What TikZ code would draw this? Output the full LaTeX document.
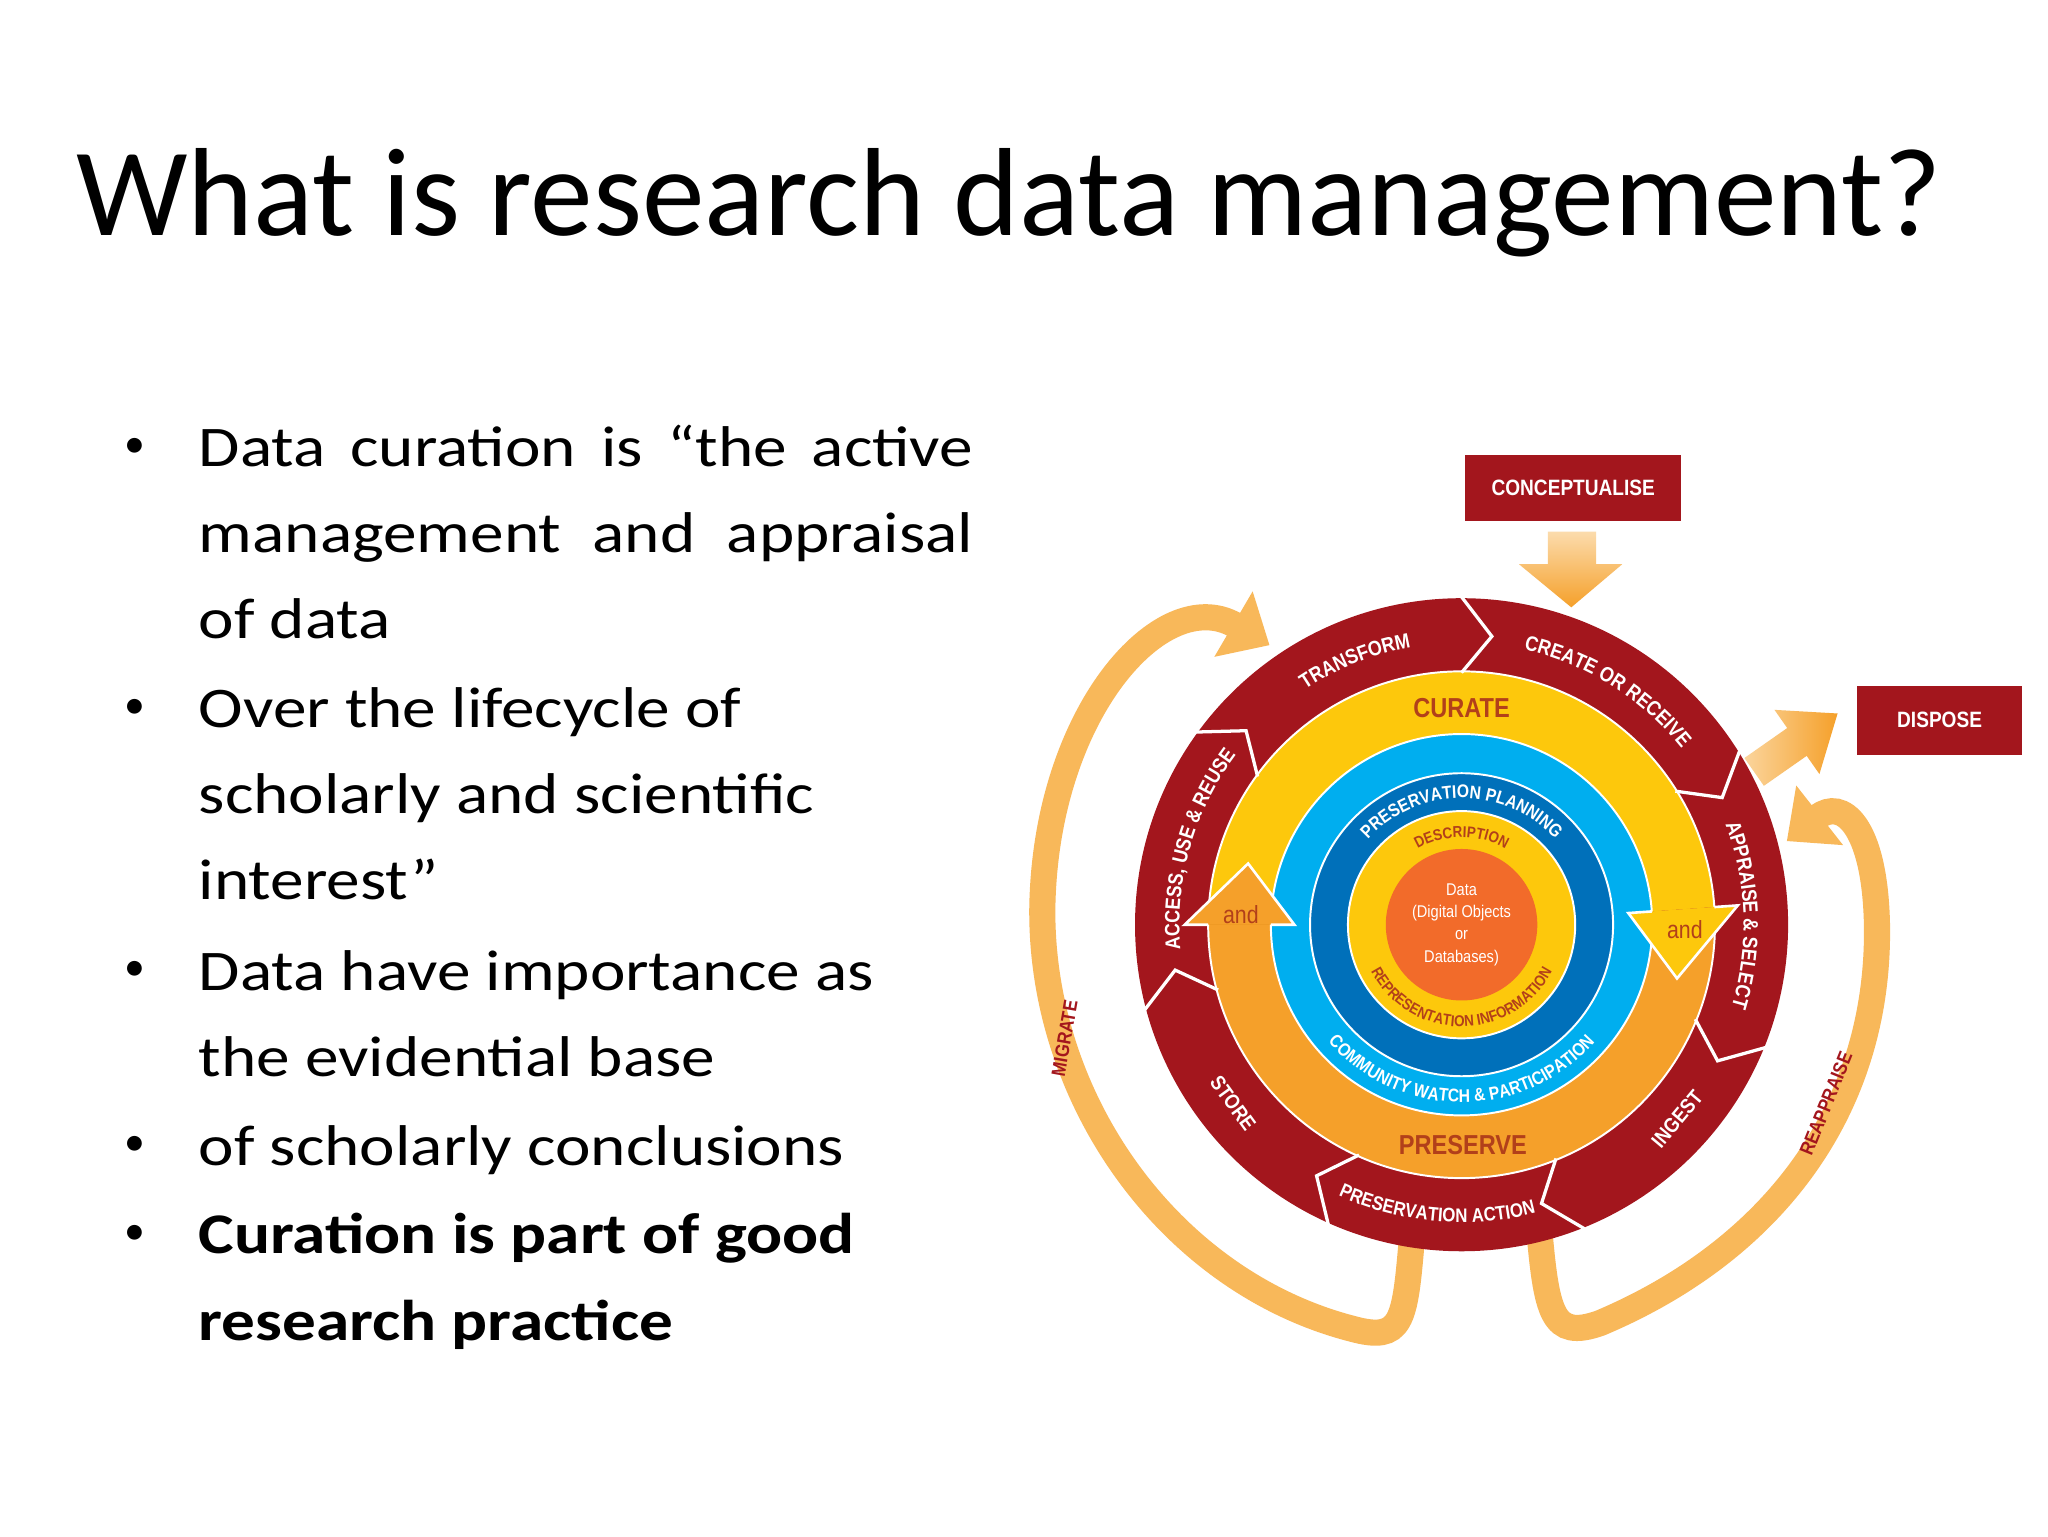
\documentclass[tikz,border=0pt]{standalone}
\usepackage{fontspec}
\setmainfont{Carlito}
\newfontfamily\bul[FakeStretch=1.17]{Carlito}
\newfontfamily\dg[FakeStretch=0.86]{Liberation Sans}
\usetikzlibrary{calc,decorations.text,arrows.meta}
\definecolor{rred}{HTML}{A3161D}
\definecolor{cyel}{HTML}{FDC80C}
\definecolor{pora}{HTML}{F5A02A}
\definecolor{lblue}{HTML}{00AEEF}
\definecolor{dblue}{HTML}{0070BA}
\definecolor{core}{HTML}{F26B2A}
\definecolor{txtor}{HTML}{B2401A}
\definecolor{arr}{HTML}{F8B85A}
\begin{document}
\begin{tikzpicture}[x=1pt,y=1pt,
  ringtxt/.style args={#1/#2}{decorate,decoration={text along path,text align=center,text color=#1,text={#2}}},
  bigarrow/.style={draw=arr,line width=20pt,-{Triangle[width=56pt,length=32pt]}},
  chev/.style={draw=white,line width=2.5pt,line join=miter},
  box/.style={fill=rred,text=white,font=\dg\bfseries\fontsize{17}{17}\selectfont,inner sep=0pt,anchor=center}]
\useasboundingbox (0,0) rectangle (1568,1176);
\fill[white] (0,0) rectangle (1568,1176);
\coordinate (C) at (1119,468);
% title and bullets
\node[anchor=base west,inner sep=0pt,font=\fontsize{96}{96}\selectfont] (title) at (58,996) {What is research data management?};
\begin{scope}[every node/.style={anchor=base west,inner sep=0pt,font=\bul\fontsize{44}{44}\selectfont}]
\node[font=\fontsize{32}{32}\selectfont] (b1) at (95,826) {•};
\node (l1) at (152,819) {\makebox[593pt][s]{Data curation is “the active}};
\node (l2) at (152,753) {\makebox[593pt][s]{management and appraisal}};
\node (l3) at (152,687) {of data};
\node[font=\fontsize{32}{32}\selectfont] (b2) at (95,626) {•};
\node (l4) at (152,619) {Over the lifecycle of};
\node (l5) at (152,553) {scholarly and scientific};
\node (l6) at (152,487) {interest”};
\node[font=\fontsize{32}{32}\selectfont] (b3) at (95,425) {•};
\node (l7) at (152,418) {Data have importance as};
\node (l8) at (152,352) {the evidential base};
\node[font=\fontsize{32}{32}\selectfont] (b4) at (95,291) {•};
\node (l9) at (152,284) {of scholarly conclusions};
\node[font=\fontsize{32}{32}\selectfont] (b5) at (95,223) {•};
\node (l10) at (152,216) {\bfseries Curation is part of good};
\node (l11) at (152,150) {\bfseries research practice};
\end{scope}
% big looping arrows (behind ring)
\draw[bigarrow] (1082,240) .. controls (1076,170) and (1076,150) .. (1042,157) .. controls (900,190) and (797,330) .. (798,480) .. controls (800,630) and (890,730) .. (972,682);
\draw[bigarrow] (1178,240) .. controls (1184,170) and (1188,150) .. (1225,163) .. controls (1360,220) and (1440,330) .. (1437,470) .. controls (1435,545) and (1410,565) .. (1368,532);
\node[rotate=80,text=rred,font=\dg\bfseries\fontsize{15}{15}\selectfont] (mig) at (815,381) {MIGRATE};
\node[rotate=68,text=rred,font=\dg\bfseries\fontsize{15}{15}\selectfont] (rea) at (1398,331) {REAPPRAISE};
% boxes
\node[box,minimum width=165pt,minimum height=51pt] (concept) at (1204.5,802.5) {CONCEPTUALISE};
\node[box,minimum width=126pt,minimum height=53pt] (dispose) at (1485,624.5) {DISPOSE};
\shade[top color=arr!50,bottom color=pora] (1185,769) -- (1222,769) -- (1222,744) -- (1242,744) -- (1203,711) -- (1163,744) -- (1185,744) -- cycle;
\begin{scope}[shift={(1343,585)},rotate=35]
\shade[left color=arr!60,right color=pora] (0,-13) -- (40,-13) -- (40,-30) -- (78,0) -- (40,30) -- (40,13) -- (0,13) -- cycle;
\end{scope}
% rings
\fill[rred] (C) circle[radius=250pt];
\fill[cyel] ($(C)+(180:194pt)$) arc[start angle=180,end angle=4,radius=194pt] -- ($(C)+(4:146pt)$) arc[start angle=4,end angle=180,radius=146pt] -- cycle;
\fill[pora] ($(C)+(4:194pt)$) arc[start angle=4,end angle=-180,radius=194pt] -- ($(C)+(-180:146pt)$) arc[start angle=-180,end angle=4,radius=146pt] -- cycle;
\draw[white,line width=1.5pt] (C) circle[radius=194pt];
\fill[lblue] (C) circle[radius=146pt];
\draw[white,line width=1.5pt] (C) circle[radius=146pt];
\fill[dblue] (C) circle[radius=116pt];
\draw[white,line width=1.5pt] (C) circle[radius=116pt];
\fill[cyel] (C) circle[radius=87pt];
\draw[white,line width=1.5pt] (C) circle[radius=87pt];
\fill[core] (C) circle[radius=58pt];
% arrowheads
\fill[cyel] ($(C)+(4:128pt)$) -- ($(C)+(4:212pt)$) -- ($(C)+(-14:170pt)$) -- cycle;
\draw[white,line width=2pt,line join=miter] ($(C)+(4:194pt)$) -- ($(C)+(4:212pt)$) -- ($(C)+(-14:170pt)$) -- ($(C)+(4:128pt)$) -- ($(C)+(4:146pt)$);
\fill[pora] ($(C)+(180:128pt)$) -- ($(C)+(180:212pt)$) -- ($(C)+(164:170pt)$) -- cycle;
\draw[white,line width=2pt,line join=miter] ($(C)+(180:194pt)$) -- ($(C)+(180:212pt)$) -- ($(C)+(164:170pt)$) -- ($(C)+(180:128pt)$) -- ($(C)+(180:146pt)$);
\node[text=txtor,font=\dg\fontsize{19}{19}\selectfont] (and1) at (1290,464) {and};
\node[text=txtor,font=\dg\fontsize{19}{19}\selectfont] (and2) at (950,476) {and};
% chevrons
\foreach \a in {90,32,-22,-68,-114,-165,144}{
  \draw[chev] ($(C)+(\a:251pt)$) -- ($(C)+(\a-6:222pt)$) -- ($(C)+(\a:193pt)$);
}
% ring texts
\path[ringtxt={white/|\dg\bfseries\fontsize{16}{16}\selectfont|TRANSFORM}] ($(C)+(138:216pt)$) arc[start angle=138,end angle=86,radius=216pt];
\path[ringtxt={white/|\dg\bfseries\fontsize{16}{16}\selectfont|CREATE OR RECEIVE}] ($(C)+(86:216pt)$) arc[start angle=86,end angle=30,radius=216pt];
\path[ringtxt={white/|\dg\bfseries\fontsize{16}{16}\selectfont|APPRAISE {\&} SELECT}] ($(C)+(28:216pt)$) arc[start angle=28,end angle=-24,radius=216pt];
\path[ringtxt={white/|\dg\bfseries\fontsize{16}{16}\selectfont|ACCESS, USE {\&} REUSE}] ($(C)+(-168:216pt)$) arc[start angle=192,end angle=136,radius=216pt];
\path[ringtxt={white/|\dg\bfseries\fontsize{15}{15}\selectfont|PRESERVATION ACTION}] ($(C)+(-120:228pt)$) arc[start angle=-120,end angle=-70,radius=228pt];
\node[rotate=50,text=white,font=\dg\bfseries\fontsize{16}{16}\selectfont] (ingest) at ($(C)+(-42:222pt)$) {INGEST};
\node[rotate=-54,text=white,font=\dg\bfseries\fontsize{16}{16}\selectfont] (store) at ($(C)+(-142:222pt)$) {STORE};
\node[text=txtor,font=\dg\bfseries\fontsize{21}{21}\selectfont] (curate) at (1119,634) {CURATE};
\node[text=txtor,font=\dg\bfseries\fontsize{21}{21}\selectfont] (preserve) at (1120,299) {PRESERVE};
\path[ringtxt={white/|\dg\bfseries\fontsize{14}{14}\selectfont|PRESERVATION PLANNING}] ($(C)+(160:97pt)$) arc[start angle=160,end angle=20,radius=97pt];
\path[ringtxt={white/|\dg\bfseries\fontsize{14}{14}\selectfont|COMMUNITY WATCH {\&} PARTICIPATION}] ($(C)+(-168:136pt)$) arc[start angle=-168,end angle=-12,radius=136pt];
\path[ringtxt={txtor/|\dg\bfseries\fontsize{12}{12}\selectfont|DESCRIPTION}] ($(C)+(140:67pt)$) arc[start angle=140,end angle=40,radius=67pt];
\path[ringtxt={txtor/|\dg\bfseries\fontsize{12}{12}\selectfont|REPRESENTATION INFORMATION}] ($(C)+(-178:78pt)$) arc[start angle=-178,end angle=-2,radius=78pt];
\node[text=white,align=center,font=\dg\fontsize{13}{17}\selectfont] (data) at (C) {Data\\(Digital Objects\\or\\Databases)};
\end{tikzpicture}
\end{document}
